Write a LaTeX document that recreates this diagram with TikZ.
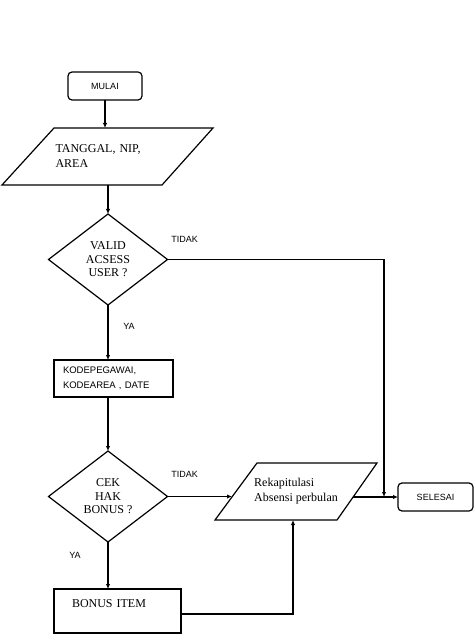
\documentclass[tikz,border=0pt]{standalone}
\usepackage{fontspec}
\setmainfont{Liberation Serif}
\setsansfont{Liberation Sans}
\usetikzlibrary{shapes.geometric,arrows.meta,calc}
\begin{document}
\begin{tikzpicture}[x=1pt,y=-1pt,
  line width=1.2pt,
  every node/.style={outer sep=0pt},
  arr/.style={-{Latex[length=5pt,width=4.5pt]}},
  term/.style={draw,rounded corners=4pt,minimum width=74pt,minimum height=28pt,font=\sffamily\fontsize{9}{11}\selectfont},
  iobox/.style={rectangle,inner sep=0pt,font=\fontsize{12}{15}\selectfont},
  dec/.style={draw,diamond,inner sep=0pt,minimum width=119pt,minimum height=91pt,align=center,font=\fontsize{12}{13.5}\selectfont},
  proc/.style={draw,rectangle,align=left},
  lab/.style={font=\sffamily\fontsize{9}{11}\selectfont}
]
\useasboundingbox (0,0) rectangle (474,636);
\node[term] (mulai) at (105,86) {MULAI};
% input 1
\node[iobox,minimum width=211pt,minimum height=57pt,text width=104pt,align=left] (p1) at (107.5,156.5) {TANGGAL, NIP,\\AREA};
\draw (p1.south west) -- ([xshift=52pt]p1.north west) -- (p1.north east) -- ([xshift=-51pt]p1.south east) -- cycle;
\node[dec] (d1) at (108,259.5) {VALID\\ACSESS\\USER ?};
\node[proc,minimum width=119pt,minimum height=37pt,text width=101pt,inner xsep=9pt,font=\sffamily\fontsize{9.5}{15}\selectfont] (k) at (113.5,378.5) {KODEPEGAWAI,\\KODEAREA , DATE};
\node[dec] (d2) at (108,496.5) {CEK\\HAK\\BONUS ?};
\node[proc,minimum width=127pt,minimum height=44pt,text width=91pt,inner xsep=18pt,font=\fontsize{12}{14}\selectfont] (b) at (117.5,611) {BONUS ITEM\\\mbox{}};
% input 2
\node[iobox,minimum width=162pt,minimum height=57pt,align=left] (p2) at (296,491.5) {Rekapitulasi\\Absensi perbulan};
\draw (p2.south west) -- ([xshift=42pt]p2.north west) -- (p2.north east) -- ([xshift=-40pt]p2.south east) -- cycle;
\coordinate (p2l) at ($(p2.south west)+(17,-23)$);
\coordinate (p2r) at ($(p2.south east)+(-24,-23)$);
\coordinate (p2b) at ([xshift=-3pt]p2.south);
\node[term,minimum width=75pt] (sel) at (435.5,497) {SELESAI};
\coordinate (c1) at (384,259.5);
\coordinate (j1) at (384,497);
\node[lab,anchor=west] (t1) at (168,239) {TIDAK};
\node[lab,anchor=west] (y1) at (120,326) {YA};
\node[lab,anchor=west] (t2) at (168,474) {TIDAK};
\node[lab,anchor=west] (y2) at (66,555) {YA};
\draw[arr] (mulai.south) -- (mulai.south |- p1.north);
\draw[arr] (p1.south -| d1.north) -- (d1.north);
\draw[arr] (d1.east) -- (c1) -- (j1);
\draw[arr] (d1.south) -- (k.north -| d1.south);
\draw[arr] (k.south -| d2.north) -- (d2.north);
\draw[arr] (d2.east) -- (d2.east -| p2l);
\draw[arr] (p2r) -- (p2r -| sel.west);
\draw[arr] (d2.south) -- (b.north -| d2.south);
\draw[arr] ([yshift=-3pt]b.east) -| (p2b);
\end{tikzpicture}
\end{document}
